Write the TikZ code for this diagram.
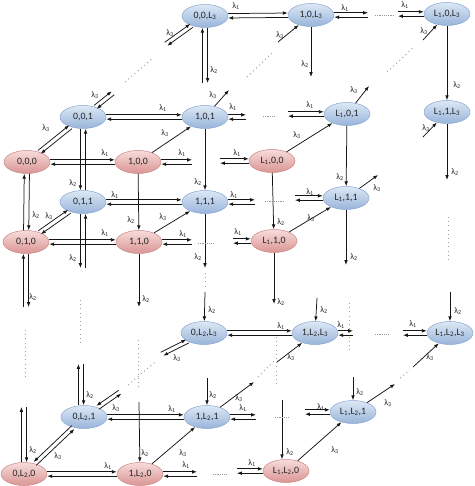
\documentclass[tikz,border=0pt]{standalone}
\usepackage{fontspec}
\setmainfont{Carlito}
\usetikzlibrary{shapes.geometric,arrows.meta,calc}
\definecolor{bluetop}{HTML}{DDE8F5}
\definecolor{bluebot}{HTML}{98B4DA}
\definecolor{blueedge}{HTML}{89A5D0}
\definecolor{redtop}{HTML}{F6DCDB}
\definecolor{redbot}{HTML}{DA9593}
\definecolor{rededge}{HTML}{CC8785}
\definecolor{linecol}{HTML}{151515}
\definecolor{textcol}{HTML}{262626}
\newcommand{\Lx}[1]{L\textsubscript{#1}}
\newcommand{\lamb}[1]{λ\textsubscript{#1}}
\tikzset{
  bn/.style={ellipse, minimum width=46pt, minimum height=23pt, inner sep=0pt,
    draw=blueedge, line width=0.5pt, top color=bluetop, bottom color=bluebot,
    font=\fontsize{9.8}{10}\selectfont, text=textcol},
  rn/.style={ellipse, minimum width=46pt, minimum height=23pt, inner sep=0pt,
    draw=rededge, line width=0.5pt, top color=redtop, bottom color=redbot,
    font=\fontsize{9.8}{10}\selectfont, text=textcol},
  arr/.style={-{Latex[length=4.8pt,width=3.6pt]}, line width=0.75pt, draw=linecol},
  lab/.style={font=\fontsize{8.5}{9}\selectfont, inner sep=0pt, text=textcol},
  dotv/.style={line width=1pt, draw=gray!75, dash pattern=on 1pt off 3.2pt},
  hdots/.style={line width=0.6pt, draw=gray!80, dash pattern=on 1.2pt off 1pt},
  shU/.style={transform canvas={yshift=2.2pt}},
  shD/.style={transform canvas={yshift=-2.2pt}},
  shL/.style={transform canvas={xshift=-2.6pt}},
  shR/.style={transform canvas={xshift=2.6pt}},
  shP/.style={transform canvas={shift={(-1.3pt,1.7pt)}}},
  shM/.style={transform canvas={shift={(1.3pt,-1.7pt)}}},
}
\begin{document}
\begin{tikzpicture}[x=1pt,y=-1pt]
\useasboundingbox (0,0) rectangle (474,486);
% ---------------- nodes
\node[bn] (a00L) at (205,16) {0,0,\Lx3};
\node[bn] (a10L) at (311,15) {1,0,\Lx3};
\node[bn] (aL0L) at (447,14) {\Lx1,0,\Lx3};
\node[bn] (aL1L) at (447,112) {\Lx1,1,\Lx3};
\node[bn] (n001) at (83,117) {0,0,1};
\node[bn] (n101) at (205,117) {1,0,1};
\node[bn] (nL01) at (347,114) {\Lx1,0,1};
\node[rn] (n000) at (27,162) {0,0,0};
\node[rn] (n100) at (138,162) {1,0,0};
\node[rn] (nL00) at (272,161) {\Lx1,0,0};
\node[bn] (n011) at (83,202) {0,1,1};
\node[bn] (n111) at (205,202) {1,1,1};
\node[bn] (nL11) at (346,198) {\Lx1,1,1};
\node[rn] (n010) at (26,242) {0,1,0};
\node[rn] (n110) at (139,242) {1,1,0};
\node[rn] (nL10) at (274,241) {\Lx1,1,0};
\node[bn] (b0LL) at (204,333) {0,\Lx2,\Lx3};
\node[bn] (b1LL) at (315,333) {1,\Lx2,\Lx3};
\node[bn] (bLLL) at (450,333) {\Lx1,\Lx2,\Lx3};
\node[bn] (b0L1) at (84,417) {0,\Lx2,1};
\node[bn] (b1L1) at (207,417) {1,\Lx2,1};
\node[bn] (bLL1) at (353,412) {\Lx1,\Lx2,1};
\node[rn] (b0L0) at (24,474) {0,\Lx2,0};
\node[rn] (b1L0) at (140,474) {1,\Lx2,0};
\node[rn] (bLL0) at (286,471) {\Lx1,\Lx2,0};
% ---------------- free ends
\coordinate (e1) at (368,15);  \coordinate (s1) at (398,14);
\coordinate (e2) at (246,117); \coordinate (s2) at (288,114);
\coordinate (e3) at (192,162); \coordinate (s3) at (220,161);
\coordinate (e4) at (255,202); \coordinate (s4) at (295,198);
\coordinate (e5) at (192,242); \coordinate (s5) at (233,241);
\coordinate (e6) at (353,333); \coordinate (s6) at (403,333);
\coordinate (e7) at (256,417); \coordinate (s7) at (305,412);
\coordinate (e8) at (197,474); \coordinate (s8) at (237,471);
\coordinate (v1) at (205,83);  \coordinate (v2) at (311,77);
\coordinate (v3) at (447,180); \coordinate (t3) at (450,292);
\coordinate (v4) at (83,268);  \coordinate (v5) at (205,268);
\coordinate (t5) at (205,292); \coordinate (v6) at (346,265);
\coordinate (v7) at (26,307);  \coordinate (v8) at (139,307);
\coordinate (v9) at (274,304); \coordinate (t8) at (139,402);
\coordinate (t9) at (282,400); \coordinate (t10) at (207,378);
\coordinate (t11) at (353,377); \coordinate (t12) at (317,298);
\coordinate (u1) at (81,364);  \coordinate (u2) at (24,407);
\coordinate (f0) at (166,44);  \coordinate (f1) at (278,42);
\coordinate (f2) at (423,40);  \coordinate (f3) at (423,137);
\coordinate (f4) at (113,93);  \coordinate (f5) at (229,90);
\coordinate (f6) at (369,86);  \coordinate (f7) at (378,175);
\coordinate (f8) at (162,354); \coordinate (f9) at (277,362);
\coordinate (f10) at (413,367); \coordinate (f11) at (120,392);
\coordinate (f12) at (254,382); \coordinate (f13) at (395,384);
% ---------------- horizontal pairs (lambda1)
\foreach \a/\b in {a00L/a10L,a10L/e1,s1/aL0L,n001/n101,n101/e2,s2/nL01,
  n000/n100,n100/e3,s3/nL00,n011/n111,n111/e4,s4/nL11,n010/n110,n110/e5,s5/nL10,
  b0LL/b1LL,b1LL/e6,s6/bLLL,b0L1/b1L1,b1L1/e7,s7/bLL1,b0L0/b1L0,b1L0/e8,s8/bLL0}{
  \draw[arr,shU] (\a) -- (\b);
  \draw[arr,shD] (\b) -- (\a);
}
% ---------------- vertical (lambda2)
\draw[arr,shL] (v1) -- (a00L);   \draw[arr,shR] (a00L) -- (v1);
\draw[arr] (a10L) -- (v2);
\draw[arr] (aL0L) -- (aL1L);
\draw[arr] (aL1L) -- (v3);
\draw[arr] (t3) -- (bLLL);
\draw[arr,shL] (n001) -- (n011); \draw[arr,shR] (n011) -- (n001);
\draw[arr] (n101) -- (n111);
\draw[arr] (nL01) -- (nL11);
\draw[arr,shL] (n010) -- (n000); \draw[arr,shR] (n000) -- (n010);
\draw[arr] (n100) -- (n110);
\draw[arr] (nL00) -- (nL10);
\draw[arr,shL] (n011) -- (v4);   \draw[arr,shR] (v4) -- (n011);
\draw[arr] (n111) -- (v5);
\draw[arr] (t5) -- (b0LL);
\draw[arr] (nL11) -- (v6);
\draw[arr,shL] (v7) -- (n010);   \draw[arr,shR] (n010) -- (v7);
\draw[arr] (n110) -- (v8);
\draw[arr] (nL10) -- (v9);
\draw[arr] (t12) -- (b1LL);
\draw[arr,shL] (u1 |- b0L1.north) -- (u1); \draw[arr,shR] (u1) -- (u1 |- b0L1.north);
\draw[arr] (t10) -- (b1L1);
\draw[arr] (t11) -- (bLL1);
\draw[arr,shL] (b0L0) -- (u2);   \draw[arr,shR] (u2) -- (b0L0);
\draw[arr] (t8) -- (b1L0);
\draw[arr] (t9) -- (t9 |- bLL0.north);
% ---------------- diagonal (lambda3)
\draw[arr,shP] (f0) -- (a00L);   \draw[arr,shM] (a00L) -- (f0);
\draw[arr] (f1) -- (a10L);
\draw[arr] (f2) -- (aL0L);
\draw[arr] (f3) -- (aL1L);
\draw[arr,shP] (n001) -- (f4);   \draw[arr,shM] (f4) -- (n001);
\draw[arr] (n101) -- (f5);
\draw[arr] (nL01) -- (f6);
\draw[arr] (nL11) -- (f7);
\draw[arr,shP] (n000) -- (n001); \draw[arr,shM] (n001) -- (n000);
\draw[arr] (n100) -- (n101);
\draw[arr] (nL00) -- (nL01);
\draw[arr,shP] (n010) -- (n011); \draw[arr,shM] (n011) -- (n010);
\draw[arr] (n110) -- (n111);
\draw[arr] (nL10) -- (nL11);
\draw[arr,shP] (f8) -- (b0LL);   \draw[arr,shM] (b0LL) -- (f8);
\draw[arr] (f9) -- (b1LL);
\draw[arr] (f10) -- (bLLL);
\draw[arr,shP] (f11) -- (b0L1);  \draw[arr,shM] (b0L1) -- (f11);
\draw[arr] (b1L1) -- (f12);
\draw[arr] (bLL1) -- (f13);
\draw[arr,shP] (b0L1) -- (b0L0); \draw[arr,shM] (b0L0) -- (b0L1);
\draw[arr] (b1L0) -- (b1L1);
\draw[arr] (bLL0) -- (bLL1);
% ---------------- dotted continuations
\draw[hdots] (375,15) -- (393,15);
\draw[hdots] (263,116) -- (276,116);
\draw[hdots] (265,201) -- (283,201);
\draw[hdots] (198,243) -- (214,243);
\draw[hdots] (375,334) -- (390,334);
\draw[hdots] (275,417) -- (290,417);
\draw[hdots] (213,474) -- (228,474);
\draw[dotv] (448,217) -- (448,262);
\draw[dotv] (205,273) -- (205,288);
\draw[dotv] (349,303) -- (349,350);
\draw[dotv] (25,330) -- (25,377);
\draw[dotv] (80,300) -- (80,345);
\draw[dotv] (138,340) -- (138,390);
\draw[dotv] (276,337) -- (276,387);
\draw[dotv] (125,82) -- (153,58);
\draw[dotv] (247,77) -- (272,53);
\draw[dotv] (387,72) -- (413,48);
\draw[dotv] (128,385) -- (155,362);
\draw[dotv] (258,377) -- (275,360);
\draw[dotv] (400,378) -- (410,370);
% ---------------- lambda1 labels
\node[lab] (p1) at (236,6) {\lamb1};
\node[lab] (p2) at (345,8) {\lamb1};
\node[lab] (p3) at (405,5) {\lamb1};
\node[lab] (p4) at (163,108) {\lamb1};
\node[lab] (p5) at (233,107) {\lamb1};
\node[lab] (p6) at (310,105) {\lamb1};
\node[lab] (p7) at (105,153) {\lamb1};
\node[lab] (p8) at (182,153) {\lamb1};
\node[lab] (p9) at (237,153) {\lamb1};
\node[lab] (p10) at (115,195) {\lamb1};
\node[lab] (p11) at (234,195) {\lamb1};
\node[lab] (p12) at (310,192) {\lamb1};
\node[lab] (p13) at (105,233) {\lamb1};
\node[lab] (p14) at (183,234) {\lamb1};
\node[lab] (p15) at (238,232) {\lamb1};
\node[lab] (p16) at (281,326) {\lamb1};
\node[lab] (p17) at (341,325) {\lamb1};
\node[lab] (p18) at (413,324) {\lamb1};
\node[lab] (p19) at (172,409) {\lamb1};
\node[lab] (p20) at (243,408) {\lamb1};
\node[lab] (p21) at (321,407) {\lamb1};
\node[lab] (p22) at (108,466) {\lamb1};
\node[lab] (p23) at (186,465) {\lamb1};
\node[lab] (p24) at (252,463) {\lamb1};
% ---------------- lambda2 labels
\node[lab] (q1) at (214,70) {\lamb2};
\node[lab] (q2) at (305,64) {\lamb2};
\node[lab] (q3) at (457,85) {\lamb2};
\node[lab] (q4) at (455,172) {\lamb2};
\node[lab] (q5) at (458,311) {\lamb2};
\node[lab] (q6) at (73,183) {\lamb2};
\node[lab] (q7) at (198,182) {\lamb2};
\node[lab] (q8) at (340,177) {\lamb2};
\node[lab] (q9) at (36,215) {\lamb2};
\node[lab] (q10) at (131,220) {\lamb2};
\node[lab] (q11) at (281,222) {\lamb2};
\node[lab] (q12) at (73,258) {\lamb2};
\node[lab] (q13) at (198,257) {\lamb2};
\node[lab] (q14) at (354,257) {\lamb2};
\node[lab] (q15) at (33,297) {\lamb2};
\node[lab] (q16) at (146,299) {\lamb2};
\node[lab] (q17) at (281,302) {\lamb2};
\node[lab] (q18) at (212,310) {\lamb2};
\node[lab] (q19) at (324,310) {\lamb2};
\node[lab] (q20) at (90,395) {\lamb2};
\node[lab] (q21) at (213,395) {\lamb2};
\node[lab] (q22) at (360,392) {\lamb2};
\node[lab] (q23) at (33,450) {\lamb2};
\node[lab] (q24) at (145,453) {\lamb2};
\node[lab] (q25) at (290,452) {\lamb2};
% ---------------- lambda3 labels
\node[lab] (r1) at (170,33) {\lamb3};
\node[lab] (r2) at (280,35) {\lamb3};
\node[lab] (r3) at (424,31) {\lamb3};
\node[lab] (r4) at (426,128) {\lamb3};
\node[lab] (r5) at (95,95) {\lamb3};
\node[lab] (r6) at (213,95) {\lamb3};
\node[lab] (r7) at (354,90) {\lamb3};
\node[lab] (r8) at (377,188) {\lamb3};
\node[lab] (r9) at (46,128) {\lamb3};
\node[lab] (r10) at (165,133) {\lamb3};
\node[lab] (r11) at (297,135) {\lamb3};
\node[lab] (r12) at (49,216) {\lamb3};
\node[lab] (r13) at (163,217) {\lamb3};
\node[lab] (r14) at (311,218) {\lamb3};
\node[lab] (r15) at (177,358) {\lamb3};
\node[lab] (r16) at (291,357) {\lamb3};
\node[lab] (r17) at (430,357) {\lamb3};
\node[lab] (r18) at (116,408) {\lamb3};
\node[lab] (r19) at (239,398) {\lamb3};
\node[lab] (r20) at (388,403) {\lamb3};
\node[lab] (r21) at (58,456) {\lamb3};
\node[lab] (r22) at (183,453) {\lamb3};
\node[lab] (r23) at (335,450) {\lamb3};
\end{tikzpicture}
\end{document}
